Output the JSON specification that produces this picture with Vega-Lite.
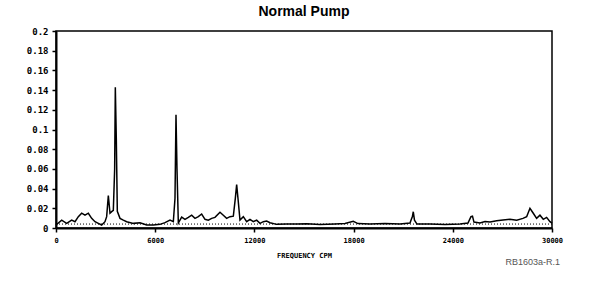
{
  "$schema": "https://vega.github.io/schema/vega-lite/v6.json",
  "autosize": "none",
  "width": 496,
  "height": 197,
  "padding": {"left": 56, "top": 31, "right": 48, "bottom": 54},
  "background": "white",
  "title": {"text": "Normal Pump", "font": "Liberation Sans", "fontSize": 14, "fontWeight": "bold", "color": "black", "anchor": "middle", "offset": 8},
  "config": {"view": {"stroke": "black", "strokeWidth": 1.5}, "axis": {"labelOverlap": false, "labelFlush": false}},
  "datasets": {
    "spectrum": [
      {"cpm": 0, "amp": 0.003}, {"cpm": 343, "amp": 0.008}, {"cpm": 645, "amp": 0.0047}, {"cpm": 948, "amp": 0.008},
      {"cpm": 1149, "amp": 0.0064}, {"cpm": 1350, "amp": 0.0115}, {"cpm": 1552, "amp": 0.015}, {"cpm": 1754, "amp": 0.013},
      {"cpm": 1955, "amp": 0.015}, {"cpm": 2157, "amp": 0.0098}, {"cpm": 2359, "amp": 0.0064}, {"cpm": 2560, "amp": 0.0047},
      {"cpm": 2762, "amp": 0.003}, {"cpm": 2963, "amp": 0.0064}, {"cpm": 3064, "amp": 0.0115}, {"cpm": 3165, "amp": 0.033},
      {"cpm": 3266, "amp": 0.015}, {"cpm": 3366, "amp": 0.0166}, {"cpm": 3467, "amp": 0.018}, {"cpm": 3548, "amp": 0.06},
      {"cpm": 3588, "amp": 0.143}, {"cpm": 3648, "amp": 0.09}, {"cpm": 3709, "amp": 0.017}, {"cpm": 3871, "amp": 0.0098},
      {"cpm": 4073, "amp": 0.008}, {"cpm": 4274, "amp": 0.0064}, {"cpm": 4677, "amp": 0.0047}, {"cpm": 5080, "amp": 0.0054},
      {"cpm": 5484, "amp": 0.003}, {"cpm": 5887, "amp": 0.003}, {"cpm": 6290, "amp": 0.0037}, {"cpm": 6592, "amp": 0.0054},
      {"cpm": 6895, "amp": 0.008}, {"cpm": 7096, "amp": 0.0064}, {"cpm": 7197, "amp": 0.03}, {"cpm": 7258, "amp": 0.115},
      {"cpm": 7318, "amp": 0.06}, {"cpm": 7399, "amp": 0.005}, {"cpm": 7601, "amp": 0.011}, {"cpm": 7802, "amp": 0.0088},
      {"cpm": 8004, "amp": 0.0108}, {"cpm": 8205, "amp": 0.013}, {"cpm": 8407, "amp": 0.0098}, {"cpm": 8609, "amp": 0.0115},
      {"cpm": 8810, "amp": 0.0142}, {"cpm": 9012, "amp": 0.0088}, {"cpm": 9213, "amp": 0.008}, {"cpm": 9415, "amp": 0.0098},
      {"cpm": 9616, "amp": 0.0108}, {"cpm": 9919, "amp": 0.016}, {"cpm": 10120, "amp": 0.013}, {"cpm": 10322, "amp": 0.0098},
      {"cpm": 10524, "amp": 0.0115}, {"cpm": 10725, "amp": 0.012}, {"cpm": 10846, "amp": 0.03}, {"cpm": 10927, "amp": 0.044},
      {"cpm": 11008, "amp": 0.03}, {"cpm": 11128, "amp": 0.008}, {"cpm": 11330, "amp": 0.0115}, {"cpm": 11532, "amp": 0.0064},
      {"cpm": 11733, "amp": 0.0088}, {"cpm": 11935, "amp": 0.0064}, {"cpm": 12137, "amp": 0.008}, {"cpm": 12338, "amp": 0.0047},
      {"cpm": 12540, "amp": 0.0064}, {"cpm": 12741, "amp": 0.007}, {"cpm": 12943, "amp": 0.0054}, {"cpm": 13346, "amp": 0.0037},
      {"cpm": 13951, "amp": 0.004}, {"cpm": 14556, "amp": 0.004}, {"cpm": 15160, "amp": 0.0044}, {"cpm": 15967, "amp": 0.0035},
      {"cpm": 16874, "amp": 0.004}, {"cpm": 17479, "amp": 0.0045}, {"cpm": 17980, "amp": 0.0068}, {"cpm": 18265, "amp": 0.0045},
      {"cpm": 18990, "amp": 0.004}, {"cpm": 19898, "amp": 0.0045}, {"cpm": 20805, "amp": 0.004}, {"cpm": 21410, "amp": 0.005},
      {"cpm": 21561, "amp": 0.012}, {"cpm": 21610, "amp": 0.0165}, {"cpm": 21682, "amp": 0.008}, {"cpm": 21833, "amp": 0.004},
      {"cpm": 22619, "amp": 0.004}, {"cpm": 23527, "amp": 0.0035}, {"cpm": 24434, "amp": 0.004}, {"cpm": 24918, "amp": 0.005},
      {"cpm": 25099, "amp": 0.0115}, {"cpm": 25190, "amp": 0.012}, {"cpm": 25281, "amp": 0.006}, {"cpm": 25644, "amp": 0.005},
      {"cpm": 25946, "amp": 0.0065}, {"cpm": 26250, "amp": 0.006}, {"cpm": 26654, "amp": 0.0074}, {"cpm": 27035, "amp": 0.008},
      {"cpm": 27458, "amp": 0.0088}, {"cpm": 27862, "amp": 0.008}, {"cpm": 28243, "amp": 0.0098}, {"cpm": 28467, "amp": 0.0115},
      {"cpm": 28667, "amp": 0.02}, {"cpm": 28868, "amp": 0.015}, {"cpm": 29070, "amp": 0.0098}, {"cpm": 29271, "amp": 0.013},
      {"cpm": 29473, "amp": 0.0088}, {"cpm": 29675, "amp": 0.0108}, {"cpm": 29877, "amp": 0.0064}, {"cpm": 30000, "amp": 0.005}
    ],
    "baseline": [{"amp": 0.004}],
    "note": [{"cpm": 30480, "amp": -0.0345, "label": "RB1603a-R.1"}]
  },
  "layer": [
    {
      "data": {"name": "spectrum"},
      "mark": {"type": "line", "color": "black", "strokeWidth": 1.5, "interpolate": "linear"},
      "encoding": {
        "x": {"field": "cpm", "type": "quantitative", "scale": {"domain": [0, 30000], "nice": false},
          "axis": {"values": [0, 6000, 12000, 18000, 24000, 30000], "tickCount": 6, "format": "d", "title": "FREQUENCY CPM",
            "labelFlush": false, "labelOverlap": false,
            "domainColor": "black", "domainWidth": 2, "tickColor": "black", "tickSize": 4, "tickWidth": 1.5, "grid": false,
            "labelFont": "DejaVu Sans Mono", "labelFontWeight": "bold", "labelFontSize": 7, "labelColor": "black", "labelPadding": 4,
            "titleFont": "DejaVu Sans Mono", "titleFontWeight": "bold", "titleFontSize": 7, "titleColor": "black", "titlePadding": 8}},
        "y": {"field": "amp", "type": "quantitative", "scale": {"domain": [0, 0.2], "nice": false},
          "axis": {"values": [0, 0.02, 0.04, 0.06, 0.08, 0.1, 0.12, 0.14, 0.16, 0.18, 0.2], "tickCount": 11, "format": ".2~f", "title": null,
            "labelFlush": false, "labelOverlap": false,
            "domainColor": "black", "domainWidth": 2, "tickColor": "black", "tickSize": 4, "tickWidth": 1.5, "grid": false,
            "labelFont": "DejaVu Sans Mono", "labelFontWeight": "bold", "labelFontSize": 9, "labelColor": "black", "labelPadding": 4}}
      }
    },
    {
      "data": {"name": "baseline"},
      "mark": {"type": "rule", "color": "black", "strokeWidth": 1, "strokeDash": [1, 2]},
      "encoding": {"y": {"field": "amp", "type": "quantitative"}}
    },
    {
      "data": {"name": "note"},
      "mark": {"type": "text", "font": "Liberation Sans", "fontSize": 9, "color": "#555555", "align": "right", "baseline": "middle"},
      "encoding": {
        "x": {"field": "cpm", "type": "quantitative"},
        "y": {"field": "amp", "type": "quantitative"},
        "text": {"field": "label"}
      }
    }
  ]
}
